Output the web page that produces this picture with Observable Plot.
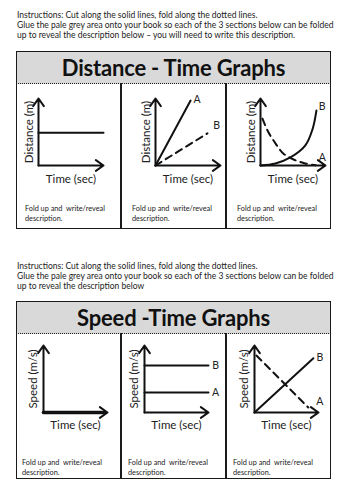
<!DOCTYPE html>
<html><head><meta charset="utf-8">
<script src="https://cdn.jsdelivr.net/npm/d3@7"></script>
<script src="https://cdn.jsdelivr.net/npm/@observablehq/plot@0.6"></script>
<style>
html,body{margin:0;padding:0;background:#fff;}
#page{position:relative;width:346px;height:500px;overflow:hidden;font-family:Lato,"Open Sans",sans-serif;font-weight:400;color:#222;}
.instr{position:absolute;left:17px;font-size:8.5px;line-height:10.2px;white-space:pre;}
.head{position:absolute;left:16px;width:315px;height:33px;background:#d9d9d9;border-bottom:1.5px dotted #222;box-sizing:border-box;display:flex;align-items:center;justify-content:center;font-weight:bold;font-size:22px;letter-spacing:-0.2px;color:#111;}
.box{position:absolute;left:16px;width:315px;height:178px;border:1.5px solid #1a1a1a;box-sizing:border-box;}
.vdiv{position:absolute;width:1.2px;background:#1a1a1a;}
.fold{position:absolute;font-size:7.3px;line-height:9.7px;white-space:pre;}
.mini{position:absolute;}
</style></head><body><div id="page"></div>
<script>
// ---- text ----
const instructions1 = ["Instructions: Cut along the solid lines, fold along the dotted lines.",
  "Glue the pale grey area onto your book so each of the 3 sections below can be folded",
  "up to reveal the description below \u2013 you will need to write this description."];
const instructions2 = ["Instructions: Cut along the solid lines, fold along the dotted lines.",
  "Glue the pale grey area onto your book so each of the 3 sections below can be folded",
  "up to reveal the description below"];
const titles = ["Distance - Time Graphs", "Speed -Time Graphs"];
const yLabels = ["Distance (m)", "Speed (m/s)"];
const xLabel = "Time (sec)";
const foldText = ["Fold up and  write/reveal", "description."];

// ---- diagram data (time t, value v on a 0..10 sketch scale) ----
const axisArrows = [{x1: 0, y1: 0, x2: 0, y2: 10}, {x1: 0, y1: 0, x2: 10, y2: 0}];
const distConstant = [{t: 0, v: 4.9}, {t: 10, v: 4.9}];
const distLineA = [{t: 0, v: 0}, {t: 5.4, v: 9.7}];
const distLineB = [{t: 0, v: 0}, {t: 8.0, v: 4.8}];
const distCurveB = [{t: 0, v: 0}, {t: 2.3, v: 0.3}, {t: 4.6, v: 1.2}, {t: 6.9, v: 3.0}, {t: 8.0, v: 5.4}, {t: 8.6, v: 8.2}];
const distCurveA = [{t: 0.3, v: 7.0}, {t: 1.2, v: 5.0}, {t: 2.3, v: 3.3}, {t: 3.5, v: 1.8}, {t: 5.1, v: 0.9}, {t: 6.9, v: 0.3}, {t: 8.5, v: 0.05}];
const speedZero = [{t: 0, v: 0}, {t: 9.4, v: 0}];
const speedConstB = [{t: 0, v: 7.0}, {t: 10, v: 7.0}];
const speedConstA = [{t: 0, v: 3.0}, {t: 10, v: 3.0}];
const speedRiseB = [{t: 0, v: 0}, {t: 9.2, v: 8.1}];
const speedFallA = [{t: 0.3, v: 8.5}, {t: 8.4, v: 0.75}];
const distLabels2 = [{t: 6.4, v: 9.85, text: "A"}, {t: 9.4, v: 6.0, text: "B"}];
const distLabels3 = [{t: 9.5, v: 1.2, text: "A"}, {t: 9.5, v: 8.8, text: "B"}];
const speedLabels2 = [{t: 11.1, v: 7.0, text: "B"}, {t: 11.1, v: 3.0, text: "A"}];
const speedLabels3 = [{t: 10.2, v: 8.2, text: "B"}, {t: 10.2, v: 1.6, text: "A"}];

const page = document.getElementById("page");
function el(cls, css, html) {
  const d = document.createElement("div");
  d.className = cls;
  Object.assign(d.style, css);
  if (html != null) d.textContent = html;
  page.appendChild(d);
  return d;
}

el("instr", {top: "10px"}, instructions1.join("\n"));
el("instr", {top: "260.5px"}, instructions2.join("\n"));

const sections = [
  {top: 51, title: titles[0], ylabel: yLabels[0], originY: 165, origins: [38, 155, 260], innerW: 65,
   foldX: [25, 132, 237], foldTop: 204, ylDx: -9, tDy: 14},
  {top: 301, title: titles[1], ylabel: yLabels[1], originY: 412, origins: [43, 144, 254], innerW: 64,
   foldX: [22, 128, 233], foldTop: 458, ylDx: -10, tDy: 13}
];
const ink = "#111";
const panelMarks = [
  [ // distance
    [Plot.line(distConstant, {x: "t", y: "v", stroke: ink, strokeWidth: 2})],
    [Plot.line(distLineA, {x: "t", y: "v", stroke: ink, strokeWidth: 2}),
     Plot.line(distLineB, {x: "t", y: "v", stroke: ink, strokeWidth: 2, strokeDasharray: "7,5"}),
     Plot.text(distLabels2, {x: "t", y: "v", text: "text", fontSize: 10.5, fill: "#222"})],
    [Plot.line(distCurveB, {x: "t", y: "v", stroke: ink, strokeWidth: 2, curve: "catmull-rom"}),
     Plot.line(distCurveA, {x: "t", y: "v", stroke: ink, strokeWidth: 2, strokeDasharray: "7,5", curve: "catmull-rom"}),
     Plot.text(distLabels3, {x: "t", y: "v", text: "text", fontSize: 10.5, fill: "#222"})]
  ],
  [ // speed
    [Plot.line(speedZero, {x: "t", y: "v", stroke: ink, strokeWidth: 3.6})],
    [Plot.line(speedConstB, {x: "t", y: "v", stroke: ink, strokeWidth: 2}),
     Plot.line(speedConstA, {x: "t", y: "v", stroke: ink, strokeWidth: 2}),
     Plot.text(speedLabels2, {x: "t", y: "v", text: "text", fontSize: 10.5, fill: "#222"})],
    [Plot.line(speedRiseB, {x: "t", y: "v", stroke: ink, strokeWidth: 2}),
     Plot.line(speedFallA, {x: "t", y: "v", stroke: ink, strokeWidth: 2, strokeDasharray: "7,5"}),
     Plot.text(speedLabels3, {x: "t", y: "v", text: "text", fontSize: 10.5, fill: "#222"})]
  ]
];

const ML = 26, MT = 6, MR = 16, MB = 24, innerH = 67;
sections.forEach((s, si) => {
  el("head", {top: s.top + "px"}, s.title);
  const bottom = s.top + 178;
  [121, 226].forEach(x => el("vdiv", {left: (x - 0.6) + "px", top: (s.top + 32) + "px", height: (bottom - s.top - 32) + "px"}));
  s.origins.forEach((ox, pi) => {
    const svg = Plot.plot({
      width: ML + s.innerW + MR, height: MT + innerH + MB,
      marginLeft: ML, marginTop: MT, marginRight: MR, marginBottom: MB,
      x: {domain: [0, 10], axis: null},
      y: {domain: [0, 10], axis: null},
      style: {background: "transparent", overflow: "visible", fontFamily: "Lato, 'Open Sans', sans-serif", fontWeight: 400, color: "#222"},
      marks: [
        ...panelMarks[si][pi],
        Plot.arrow(axisArrows, {x1: "x1", y1: "y1", x2: "x2", y2: "y2", stroke: ink, strokeWidth: 2, headLength: 7, headAngle: 70}),
        Plot.text([s.ylabel], {x: 0, y: 5, dx: s.ylDx, rotate: -90, fontSize: 11.5, fontWeight: 400, fill: "#222"}),
        Plot.text([xLabel], {x: 5, y: 0, dy: s.tDy, fontSize: 11.5, fontWeight: 400, fill: "#222"})
      ]
    });
    const wrap = el("mini", {left: (ox - ML) + "px", top: (s.originY - innerH - MT) + "px"});
    wrap.appendChild(svg);
    el("fold", {left: s.foldX[pi] + "px", top: s.foldTop + "px"}, foldText.join("\n"));
  });
  el("box", {top: s.top + "px"});
});
</script></body></html>
